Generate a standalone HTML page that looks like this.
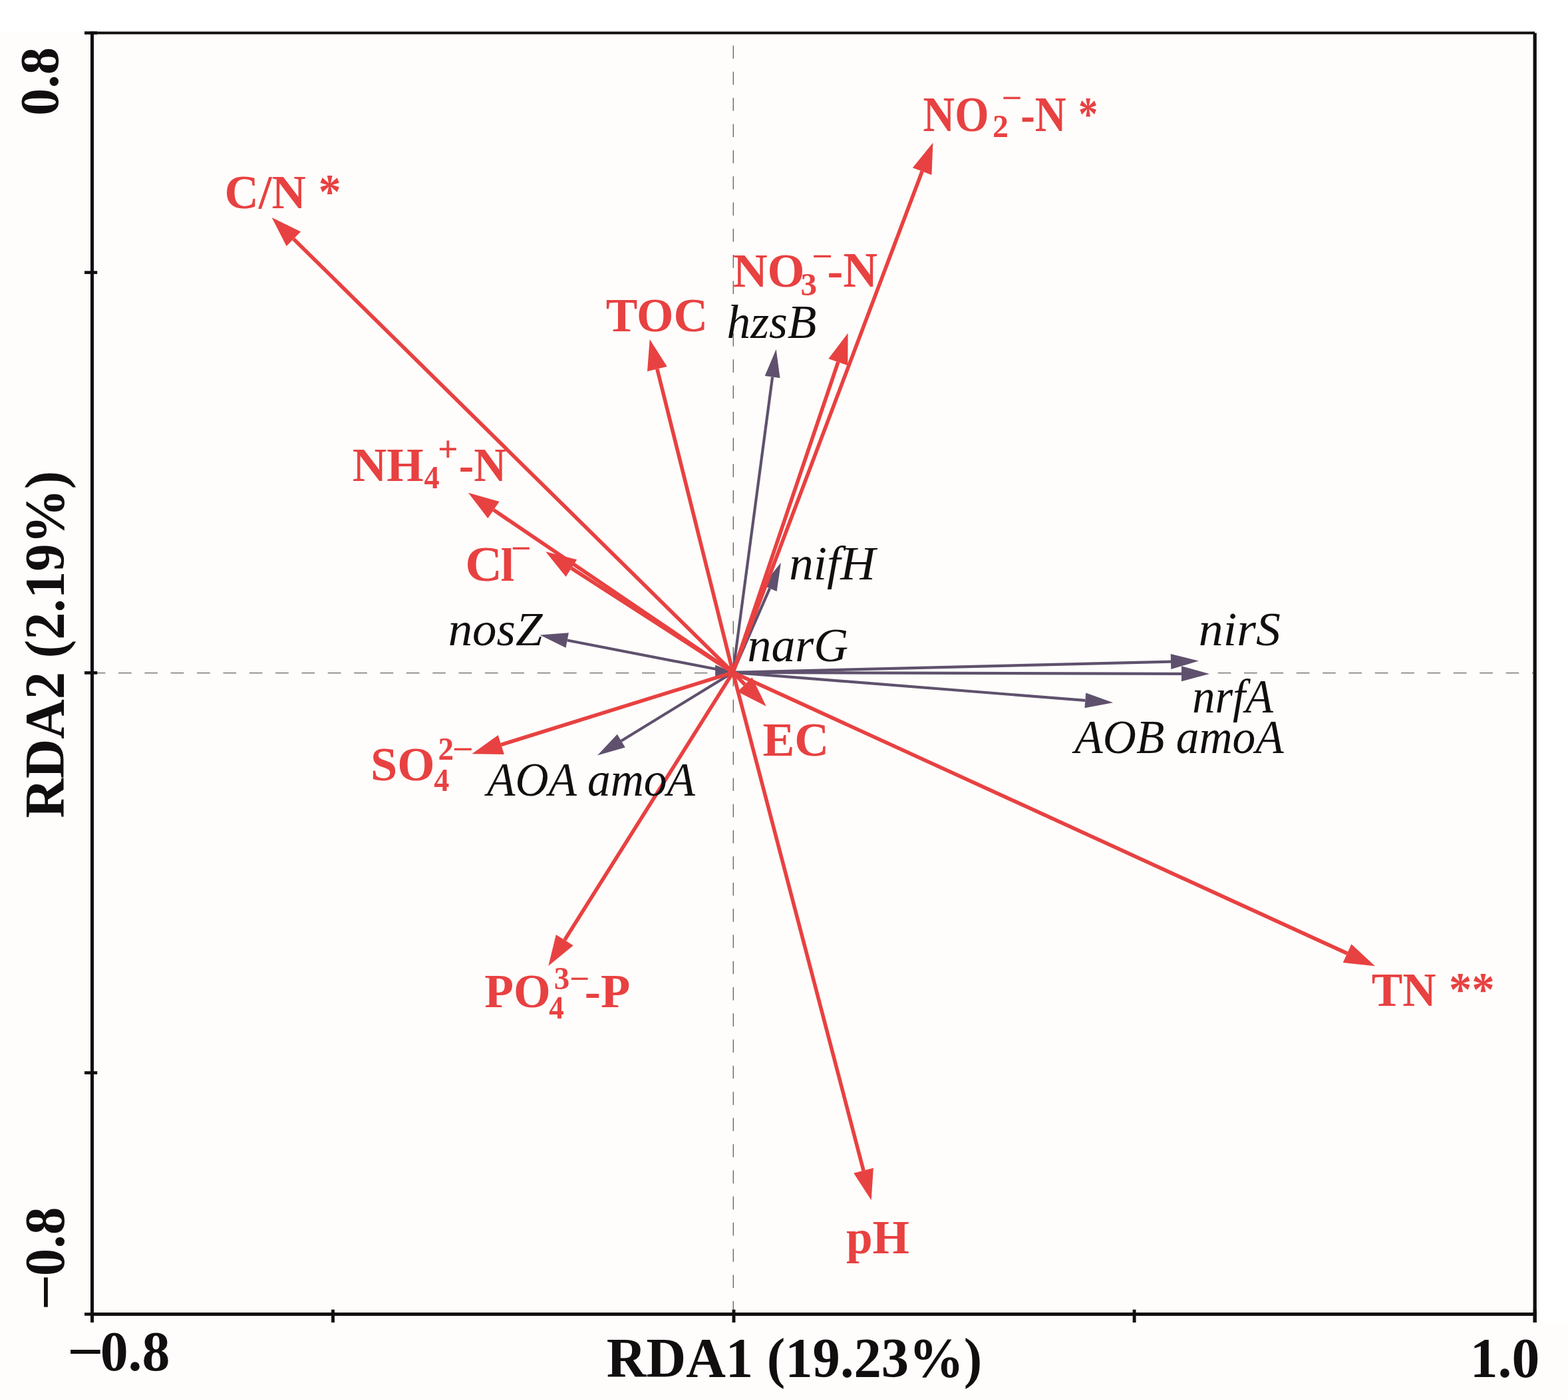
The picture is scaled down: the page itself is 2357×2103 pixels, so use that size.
<!DOCTYPE html><html><head><meta charset="utf-8"><title>RDA biplot</title><style>html,body{margin:0;padding:0;background:#fefdfb;}svg{display:block}</style></head><body>
<svg width="2357" height="2103" viewBox="0 0 2357 2103">
<rect x="0" y="0" width="2357" height="2103" fill="#fefdfb"/>
<rect x="0" y="0" width="2357" height="47" fill="#ffffff"/>
<rect x="2315" y="0" width="42" height="1989.5" fill="#ffffff"/>
<g stroke="#636665" stroke-width="1.35" fill="none">
<line x1="138.65" y1="1011.6" x2="2305" y2="1011.6" stroke-dasharray="19.7 19.65"/>
<line x1="1102.3" y1="1975.5" x2="1102.3" y2="51" stroke-dasharray="19.7 19.62"/>
</g>
<g fill="#5f516d" stroke="none">
<line x1="1101.8" y1="1010.8" x2="1161.14" y2="566.63" stroke="#5f516d" stroke-width="4.2"/>
<polygon points="1166.7,525 1149.74,565.11 1172.54,568.15"/>
<line x1="1101.8" y1="1010.8" x2="1157.08" y2="884.29" stroke="#5f516d" stroke-width="4.2"/>
<polygon points="1173.9,845.8 1146.54,879.68 1167.62,888.89"/>
<line x1="1101.8" y1="1010.8" x2="852.73" y2="962.5" stroke="#5f516d" stroke-width="4.2"/>
<polygon points="811.5,954.5 850.54,973.79 854.92,951.21"/>
<line x1="1101.8" y1="1010.8" x2="1760.01" y2="994.54" stroke="#5f516d" stroke-width="4.2"/>
<polygon points="1802,993.5 1759.73,983.04 1760.3,1006.03"/>
<line x1="1101.8" y1="1010.8" x2="1776" y2="1012.78" stroke="#5f516d" stroke-width="4.2"/>
<polygon points="1818,1012.9 1776.03,1001.28 1775.97,1024.28"/>
<line x1="1101.8" y1="1010.8" x2="1631.33" y2="1052.87" stroke="#5f516d" stroke-width="4.2"/>
<polygon points="1673.2,1056.2 1632.24,1041.41 1630.42,1064.34"/>
<line x1="1101.8" y1="1010.8" x2="933.82" y2="1113.67" stroke="#5f516d" stroke-width="4.2"/>
<polygon points="898,1135.6 939.82,1123.47 927.81,1103.86"/>
<polygon points="1075.2,999.4 1101,1010.6 1075.2,1016.8"/>
</g>
<g fill="#e84141" stroke="none">
<line x1="1101.8" y1="1010.8" x2="441.35" y2="359.21" stroke="#e84141" stroke-width="5.6"/>
<polygon points="408.6,326.9 430.6,370.1 452.09,348.31"/>
<line x1="1101.8" y1="1010.8" x2="1386.15" y2="257.54" stroke="#e84141" stroke-width="5.6"/>
<polygon points="1402.4,214.5 1371.84,252.13 1400.47,262.94"/>
<line x1="1101.8" y1="1010.8" x2="1259.84" y2="544.27" stroke="#e84141" stroke-width="5.6"/>
<polygon points="1274.6,500.7 1245.35,539.36 1274.33,549.18"/>
<line x1="1101.8" y1="1010.8" x2="987.85" y2="554.63" stroke="#e84141" stroke-width="5.6"/>
<polygon points="976.7,510 973,558.34 1002.69,550.92"/>
<line x1="1101.8" y1="1010.8" x2="741.96" y2="766.54" stroke="#e84141" stroke-width="5.6"/>
<polygon points="703.9,740.7 733.37,779.19 750.55,753.88"/>
<line x1="1101.8" y1="1010.8" x2="858.86" y2="854.22" stroke="#e84141" stroke-width="5.6"/>
<polygon points="820.2,829.3 850.58,867.08 867.15,841.36"/>
<line x1="1101.8" y1="1010.8" x2="753.31" y2="1119.5" stroke="#e84141" stroke-width="5.6"/>
<polygon points="709.4,1133.2 757.87,1134.11 748.76,1104.9"/>
<line x1="1101.8" y1="1010.8" x2="848.79" y2="1413.06" stroke="#e84141" stroke-width="5.6"/>
<polygon points="824.3,1452 861.74,1421.21 835.84,1404.92"/>
<line x1="1101.8" y1="1010.8" x2="1298.04" y2="1759.7" stroke="#e84141" stroke-width="5.6"/>
<polygon points="1309.7,1804.2 1312.84,1755.82 1283.24,1763.58"/>
<line x1="1101.8" y1="1010.8" x2="1119.6" y2="1028.95" stroke="#e84141" stroke-width="5.6"/>
<polygon points="1151.8,1061.8 1130.52,1018.24 1108.67,1039.66"/>
<line x1="1101.8" y1="1010.8" x2="2025.07" y2="1433.16" stroke="#e84141" stroke-width="5.6"/>
<polygon points="2066.9,1452.3 2031.43,1419.25 2018.7,1447.08"/>
</g>
<g stroke="#100e0f" fill="none" stroke-linecap="butt">
<line x1="136" y1="49.5" x2="2307" y2="49.5" stroke-width="4.2"/>
<line x1="136" y1="1975.5" x2="2309.8" y2="1975.5" stroke-width="5"/>
<line x1="138.5" y1="47.5" x2="138.5" y2="1988" stroke-width="5"/>
<line x1="2307.2" y1="49.5" x2="2307.2" y2="1988" stroke-width="5.2"/>
<line x1="127" y1="49.5" x2="146.2" y2="49.5" stroke-width="4.6"/>
<line x1="127" y1="409.6" x2="146.2" y2="409.6" stroke-width="4.6"/>
<line x1="127" y1="1011.4" x2="146.2" y2="1011.4" stroke-width="4.6"/>
<line x1="127" y1="1612.6" x2="146.2" y2="1612.6" stroke-width="4.6"/>
<line x1="127" y1="1975.5" x2="146.2" y2="1975.5" stroke-width="4.6"/>
<line x1="138.5" y1="1968.6" x2="138.5" y2="1988" stroke-width="4.9"/>
<line x1="500.5" y1="1968.6" x2="500.5" y2="1988" stroke-width="4.9"/>
<line x1="1103" y1="1968.6" x2="1103" y2="1988" stroke-width="4.9"/>
<line x1="1705.1" y1="1968.6" x2="1705.1" y2="1988" stroke-width="4.9"/>
<line x1="2307.2" y1="1968.6" x2="2307.2" y2="1988" stroke-width="4.9"/>
</g>
<text transform="translate(337.45,313.17) scale(0.9760,1)" style="font-family:'Liberation Serif','Times New Roman',serif;font-size:72.84px;font-weight:bold" fill="#e84141">C/N</text>
<text transform="translate(478.85,313.41) scale(0.9081,1)" style="font-family:'Liberation Serif','Times New Roman',serif;font-size:74.67px;font-weight:bold" fill="#e84141">*</text>
<text transform="translate(1387.58,197.26) scale(0.8872,1)" style="font-family:'Liberation Serif','Times New Roman',serif;font-size:74.33px;font-weight:bold" fill="#e84141">NO</text>
<text transform="translate(1491.98,206) scale(0.9921,1)" style="font-family:'Liberation Serif','Times New Roman',serif;font-size:48.33px;font-weight:bold" fill="#e84141">2</text>
<text transform="translate(1505.3,163.18) scale(1.1500,1)" style="font-family:'Liberation Serif','Times New Roman',serif;font-size:47.5px;font-weight:bold" fill="#e84141">−</text>
<text transform="translate(1534.23,197.4) scale(0.8659,1)" style="font-family:'Liberation Serif','Times New Roman',serif;font-size:74.92px;font-weight:bold" fill="#e84141">-N</text>
<text transform="translate(1620.97,194.81) scale(0.8191,1)" style="font-family:'Liberation Serif','Times New Roman',serif;font-size:71.47px;font-weight:bold" fill="#e84141">*</text>
<text transform="translate(1101.66,431.07) scale(0.9879,1)" style="font-family:'Liberation Serif','Times New Roman',serif;font-size:72.84px;font-weight:bold" fill="#e84141">NO</text>
<text transform="translate(1203.54,444.12) scale(1.0152,1)" style="font-family:'Liberation Serif','Times New Roman',serif;font-size:48.21px;font-weight:bold" fill="#e84141">3</text>
<text transform="translate(1219.94,401.32) scale(1.1726,1)" style="font-family:'Liberation Serif','Times New Roman',serif;font-size:47.5px;font-weight:bold" fill="#e84141">−</text>
<text transform="translate(1243.6,431.2) scale(0.9749,1)" style="font-family:'Liberation Serif','Times New Roman',serif;font-size:73.38px;font-weight:bold" fill="#e84141">-N</text>
<text transform="translate(910.63,497.57) scale(0.9835,1)" style="font-family:'Liberation Serif','Times New Roman',serif;font-size:72.54px;font-weight:bold" fill="#e84141">TOC</text>
<text transform="translate(529.67,723.4) scale(0.9899,1)" style="font-family:'Liberation Serif','Times New Roman',serif;font-size:72.06px;font-weight:bold" fill="#e84141">NH</text>
<text transform="translate(637.51,734.4) scale(0.9524,1)" style="font-family:'Liberation Serif','Times New Roman',serif;font-size:48.55px;font-weight:bold" fill="#e84141">4</text>
<text transform="translate(657.94,693.21) scale(0.9766,1)" style="font-family:'Liberation Serif','Times New Roman',serif;font-size:55.05px;font-weight:bold" fill="#e84141">+</text>
<text transform="translate(689.73,723.4) scale(0.9332,1)" style="font-family:'Liberation Serif','Times New Roman',serif;font-size:72.62px;font-weight:bold" fill="#e84141">-N</text>
<text transform="translate(699.24,873.06) scale(1.0442,1)" style="font-family:'Liberation Serif','Times New Roman',serif;font-size:73.88px;font-weight:bold" fill="#e84141">C</text>
<text transform="translate(752.41,872.7) scale(1.0834,1)" style="font-family:'Liberation Serif','Times New Roman',serif;font-size:68.84px;font-weight:bold" fill="#e84141">l</text>
<text transform="translate(767.84,840.38) scale(1.1319,1)" style="font-family:'Liberation Serif','Times New Roman',serif;font-size:47.5px;font-weight:bold" fill="#e84141">−</text>
<text transform="translate(557.12,1172.97) scale(0.9934,1)" style="font-family:'Liberation Serif','Times New Roman',serif;font-size:72.84px;font-weight:bold" fill="#e84141">SO</text>
<text transform="translate(652.21,1188.6) scale(0.9318,1)" style="font-family:'Liberation Serif','Times New Roman',serif;font-size:49.62px;font-weight:bold" fill="#e84141">4</text>
<text transform="translate(658.41,1142.4) scale(0.9621,1)" style="font-family:'Liberation Serif','Times New Roman',serif;font-size:49.09px;font-weight:bold" fill="#e84141">2</text>
<text transform="translate(679.74,1142.23) scale(1.1726,1)" style="font-family:'Liberation Serif','Times New Roman',serif;font-size:47.5px;font-weight:bold" fill="#e84141">−</text>
<text transform="translate(728.33,1514.28) scale(0.9977,1)" style="font-family:'Liberation Serif','Times New Roman',serif;font-size:71.79px;font-weight:bold" fill="#e84141">PO</text>
<text transform="translate(825.33,1531.4) scale(0.9287,1)" style="font-family:'Liberation Serif','Times New Roman',serif;font-size:48.4px;font-weight:bold" fill="#e84141">4</text>
<text transform="translate(832.73,1487.41) scale(0.9565,1)" style="font-family:'Liberation Serif','Times New Roman',serif;font-size:48.96px;font-weight:bold" fill="#e84141">3</text>
<text transform="translate(855.87,1487.27) scale(1.1228,1)" style="font-family:'Liberation Serif','Times New Roman',serif;font-size:47.5px;font-weight:bold" fill="#e84141">−</text>
<text transform="translate(878.76,1514.1) scale(1.0206,1)" style="font-family:'Liberation Serif','Times New Roman',serif;font-size:71.15px;font-weight:bold" fill="#e84141">-P</text>
<text transform="translate(1271.93,1884.19) scale(0.9836,1)" style="font-family:'Liberation Serif','Times New Roman',serif;font-size:72.5px;font-weight:bold" fill="#e84141">pH</text>
<text transform="translate(1146.42,1135.68) scale(0.9935,1)" style="font-family:'Liberation Serif','Times New Roman',serif;font-size:72.24px;font-weight:bold" fill="#e84141">EC</text>
<text transform="translate(2061.75,1511.9) scale(0.9743,1)" style="font-family:'Liberation Serif','Times New Roman',serif;font-size:71.69px;font-weight:bold" fill="#e84141">TN</text>
<text transform="translate(2177.9,1510.51) scale(0.9641,1)" style="font-family:'Liberation Serif','Times New Roman',serif;font-size:71.47px;font-weight:bold" fill="#e84141">**</text>
<text transform="translate(1092.5,507.5) scale(0.9927,1)" style="font-family:'Liberation Serif','Times New Roman',serif;font-size:72px;font-style:italic" fill="#100e0f">hzsB</text>
<text transform="translate(1186.24,870.6) scale(1.0141,1)" style="font-family:'Liberation Serif','Times New Roman',serif;font-size:72px;font-style:italic" fill="#100e0f">nifH</text>
<text transform="translate(1123.49,994) scale(0.9976,1)" style="font-family:'Liberation Serif','Times New Roman',serif;font-size:72px;font-style:italic" fill="#100e0f">narG</text>
<text transform="translate(673.65,969.6) scale(1.0125,1)" style="font-family:'Liberation Serif','Times New Roman',serif;font-size:72px;font-style:italic" fill="#100e0f">nosZ</text>
<text transform="translate(1801.82,969.5) scale(1.0243,1)" style="font-family:'Liberation Serif','Times New Roman',serif;font-size:72px;font-style:italic" fill="#100e0f">nirS</text>
<text transform="translate(1792.2,1071.2) scale(0.9511,1)" style="font-family:'Liberation Serif','Times New Roman',serif;font-size:72px;font-style:italic" fill="#100e0f">nrfA</text>
<text transform="translate(1615.32,1132) scale(0.9648,1)" style="font-family:'Liberation Serif','Times New Roman',serif;font-size:72px;font-style:italic" fill="#100e0f">AOB amoA</text>
<text transform="translate(732.02,1195.6) scale(0.9639,1)" style="font-family:'Liberation Serif','Times New Roman',serif;font-size:72px;font-style:italic" fill="#100e0f">AOA amoA</text>
<text transform="translate(911.86,2070.4) scale(0.9837,1)" style="font-family:'Liberation Serif','Times New Roman',serif;font-size:84px;font-weight:bold" fill="#100e0f">RDA1 (19.23%)</text>
<text transform="translate(100.71,2060.24) scale(1.1376,1)" style="font-family:'Liberation Serif','Times New Roman',serif;font-size:84.5px;font-weight:bold" fill="#100e0f">−</text>
<text transform="translate(150.64,2059.84) scale(1.0028,1)" style="font-family:'Liberation Serif','Times New Roman',serif;font-size:83.68px;font-weight:bold" fill="#100e0f">0.8</text>
<text transform="translate(2209.7,2070.23) scale(0.9918,1)" style="font-family:'Liberation Serif','Times New Roman',serif;font-size:84.41px;font-weight:bold" fill="#100e0f">1.0</text>
<text transform="translate(96.4,0) rotate(-90) translate(-1229.74,0) scale(0.9814,1)" style="font-family:'Liberation Serif','Times New Roman',serif;font-size:84px;font-weight:bold" fill="#100e0f">RDA2 (2.19%)</text>
<text transform="translate(86.76,0) rotate(-90) translate(-174,0) scale(0.9986,1)" style="font-family:'Liberation Serif','Times New Roman',serif;font-size:82.5px;font-weight:bold" fill="#100e0f">0.8</text>
<text transform="translate(96.73,0) rotate(-90) translate(-1969.96,0) scale(1.1325,1)" style="font-family:'Liberation Serif','Times New Roman',serif;font-size:84.5px;font-weight:bold" fill="#100e0f">−</text>
<text transform="translate(96.04,0) rotate(-90) translate(-1918.32,0) scale(0.9882,1)" style="font-family:'Liberation Serif','Times New Roman',serif;font-size:83.97px;font-weight:bold" fill="#100e0f">0.8</text>
</svg></body></html>
